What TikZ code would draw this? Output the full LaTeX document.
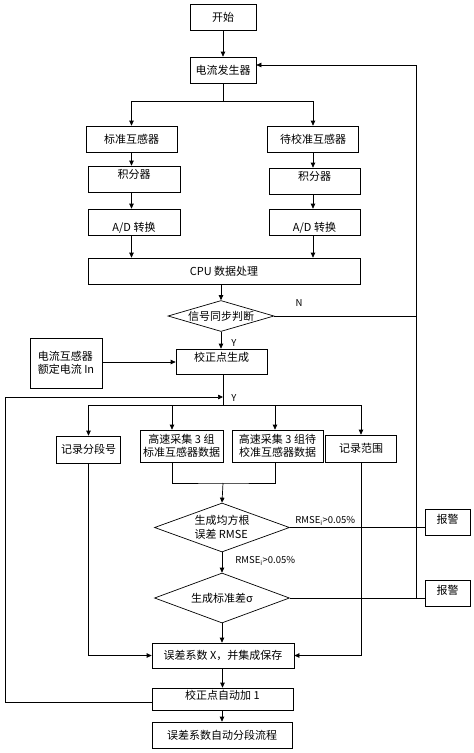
\documentclass[tikz,border=0pt]{standalone}
\usepackage{fontspec}
\newfontfamily\cjk{Noto Sans CJK SC}
\usetikzlibrary{arrows.meta,shapes.geometric}

\begin{document}
\begin{tikzpicture}[x=1pt,y=-1pt,
  font=\cjk\fontsize{11}{13.5}\selectfont,
  line width=0.7pt,
  bx/.style={draw,inner sep=1pt,align=center,minimum width=#1,minimum height=26},
  dm/.style={draw,diamond,aspect=2.7,inner sep=0pt,minimum width=135,minimum height=49,align=left},
  hi/.style={text depth=#1},
  lo/.style={text height=#1},
  tag/.style={inner sep=1pt,font=\cjk\fontsize{9.5}{11}\selectfont},
  fl/.style={-{Triangle[length=5pt,width=4.5pt]}}]
\useasboundingbox (0,0) rectangle (474,753);
% top part: source and the two channels
\node[bx=66] (start) at (223,17.5) {开始};
\node[bx=66] (gen) at (223,70) {电流发生器};
\node[bx=91] (std) at (131.5,139) {标准互感器};
\node[bx=91] (dut) at (313,139) {待校准互感器};
\node[bx=92,hi=10pt] (intL) at (134,179) {积分器};
\node[bx=91,hi=10pt] (intR) at (314.5,181) {积分器};
\node[bx=92,lo=21pt] (adL) at (134,222) {A/D 转换};
\node[bx=91,lo=21pt] (adR) at (314.5,222) {A/D 转换};
\node[bx=272] (cpu) at (224,271) {CPU 数据处理};
% sync check and correction point
\node[dm,aspect=3.4,minimum width=106,minimum height=31] (sync) at (221,316) {信号同步判断};
\node[bx=91,hi=10pt,minimum height=25] (corr) at (221.5,361.5) {校正点生成};
\node[bx=72,minimum height=50,align=left] (rated) at (66,363) {电流互感器\\额定电流 In};
\node[tag] (no) at (299,303) {N};
\node[tag] (yes1) at (234,343) {Y};
\node[tag] (yes2) at (234,398) {Y};
% four branches
\node[bx=64,minimum height=27] (rec) at (88.5,449.5) {记录分段号};
\node[bx=83,minimum height=32] (hsA) at (181.5,446) {高速采集 3 组\\标准互感器数据};
\node[bx=91,minimum height=32] (hsB) at (277.5,446) {高速采集 3 组待\\校准互感器数据};
\node[bx=71,minimum height=27] (rng) at (361,448.5) {记录范围};
% checks and alarms
\node[dm] (rmse) at (222,527.5) {生成均方根\\误差 RMSE};
\node[dm,minimum height=50] (sigma) at (222,598) {生成标准差σ};
\node[bx=45,hi=6pt] (alarmA) at (447.5,522) {报警};
\node[bx=45,hi=6pt] (alarmB) at (447.5,593) {报警};
\node[tag,anchor=south west] (lbA) at (294,527) {RMSE\textsubscript{i}>0.05\%};
\node[tag,anchor=west] (lbB) at (234,561) {RMSE\textsubscript{i}>0.05\%};
% end part
\node[bx=142,minimum height=25] (save) at (223,655.5) {误差系数 X，并集成保存};
\node[bx=141,hi=8pt,minimum height=22] (inc) at (222.5,699) {校正点自动加 1};
\node[bx=140] (fin) at (222,735) {误差系数自动分段流程};
\coordinate (sp) at (223,101);
\coordinate (join) at (223,397);
\coordinate (bus) at (223,405);
\coordinate (mrg) at (223,483);
\coordinate (lft) at (5,397);
\coordinate (rail) at (416,598);
% connectors
\draw[fl] (start) -- (gen);
\draw (gen.south) -- (sp);
\draw[fl] (sp) -| (std.north);
\draw[fl] (sp) -| (dut.north);
\draw[fl] (std.south) -- (std.south |- intL.north);
\draw[fl] (dut.south) -- (dut.south |- intR.north);
\draw[fl] (std.south |- intL.south) -- (std.south |- adL.north);
\draw[fl] (dut.south |- intR.south) -- (dut.south |- adR.north);
\draw[fl] (std.south |- adL.south) -- (std.south |- cpu.north);
\draw[fl] (dut.south |- adR.south) -- (dut.south |- cpu.north);
\draw[fl] (cpu.south -| sync.north) -- (sync.north);
\draw[fl] (sync.south) -- (corr.north -| sync.south);
\draw[fl] (rated.east |- 0,362) -- (corr.west |- 0,362);
\draw (sync.east) -- (sync.east -| rail);
\draw[fl] (rail) |- ([yshift=5pt]gen.east);
\draw (corr.south -| bus) -- (bus);
\draw (rec.north |- bus) -- (rng.north |- bus);
\draw[fl] (rec.north |- bus) -- (rec.north);
\draw[fl] ([xshift=-9.5pt]hsA.north |- bus) -- ([xshift=-9.5pt]hsA.north);
\draw[fl] ([xshift=-2.5pt]hsB.north |- bus) -- ([xshift=-2.5pt]hsB.north);
\draw[fl] (rng.north |- bus) -- (rng.north);
\draw ([xshift=-9.5pt]hsA.south) |- (mrg) -| ([xshift=-2.5pt]hsB.south);
\draw[fl] (mrg) -- (rmse.north);
\draw (rmse.east) -- (rmse.east -| alarmA.west);
\draw[fl] (rmse.south) -- (sigma.north);
\draw (sigma.east) -- (sigma.east -| alarmB.west);
\draw[fl] (rec.south) |- (save.west);
\draw[fl] (rng.south) |- (save.east);
\draw[fl] (sigma.south) -- (save.north -| sigma.south);
\draw[fl] (save.south -| inc.north) -- (inc.north);
\draw[fl] (inc.south -| fin.north) -- (fin.north);
\draw[fl] ([yshift=-3pt]inc.west) -| (lft) -- (join);
\end{tikzpicture}
\end{document}
